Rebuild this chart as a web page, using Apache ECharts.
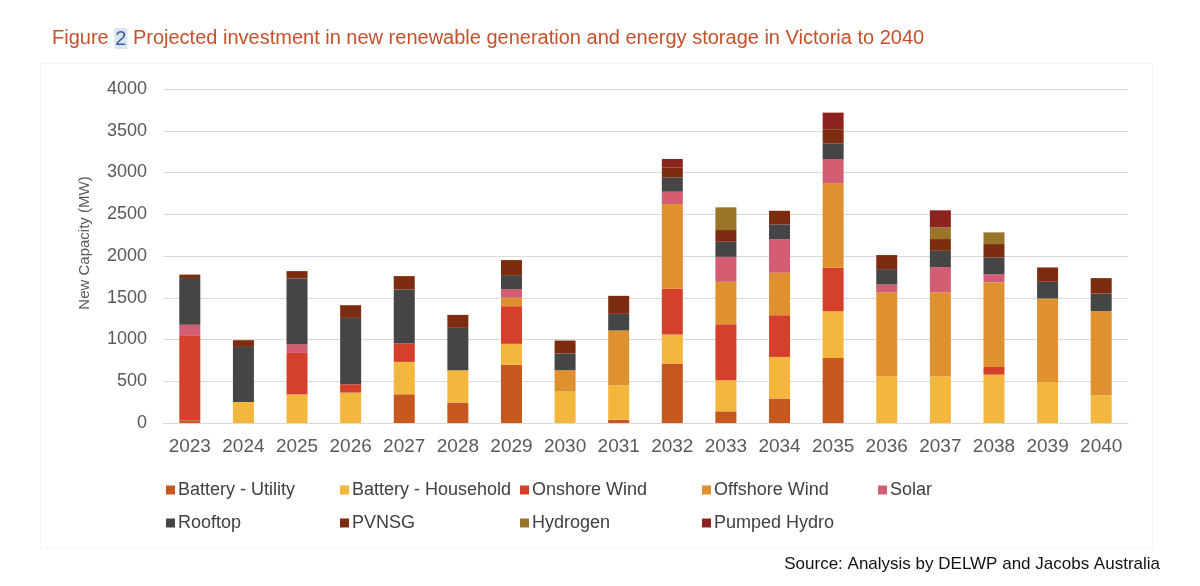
<!DOCTYPE html>
<html>
<head>
<meta charset="utf-8">
<script src="https://cdn.jsdelivr.net/npm/echarts@6/dist/echarts.min.js"></script>
<style>html,body{margin:0;padding:0;background:#fff}#c{width:1200px;height:586px}</style>
</head>
<body>
<div id="c"></div>
<script>
const years = ['2023','2024','2025','2026','2027','2028','2029','2030','2031','2032','2033','2034','2035','2036','2037','2038','2039','2040'];
const yTicks = [0, 500, 1000, 1500, 2000, 2500, 3000, 3500, 4000];
const batteryUtility   = [30, 0, 0, 0, 344, 245, 696, 0, 40, 712, 140, 293, 779, 0, 0, 0, 0, 0];
const batteryHousehold = [0, 252, 340, 364, 388, 387, 252, 376, 412, 348, 372, 498, 560, 560, 560, 580, 492, 332];
const onshoreWind      = [1020, 0, 499, 100, 220, 0, 451, 0, 0, 547, 671, 500, 520, 0, 0, 91, 0, 0];
const offshoreWind     = [0, 0, 0, 0, 0, 0, 100, 256, 656, 1015, 508, 508, 1011, 1003, 1003, 1012, 999, 1007];
const solar            = [128, 0, 105, 0, 0, 0, 104, 0, 0, 148, 299, 400, 292, 96, 304, 100, 0, 0];
const rooftop          = [559, 659, 787, 795, 647, 507, 168, 200, 199, 172, 180, 180, 188, 184, 195, 200, 200, 212];
const pvnsg            = [40, 81, 88, 152, 160, 156, 180, 156, 216, 120, 141, 163, 168, 168, 141, 160, 172, 184];
const hydrogen         = [0, 0, 0, 0, 0, 0, 0, 0, 0, 0, 272, 0, 0, 0, 140, 140, 0, 0];
const pumpedHydro      = [0, 0, 0, 0, 0, 0, 0, 0, 0, 100, 0, 0, 199, 0, 204, 0, 0, 0];

const seriesNames = ['Battery - Utility','Battery - Household','Onshore Wind','Offshore Wind','Solar','Rooftop','PVNSG','Hydrogen','Pumped Hydro'];
const seriesData = [batteryUtility, batteryHousehold, onshoreWind, offshoreWind, solar, rooftop, pvnsg, hydrogen, pumpedHydro];
const colors = ['#C5571F','#F3B73D','#D4402B','#E0912F','#D35E74','#454545','#7C2D10','#9A7428','#8C2321'];

const FONT = '"Liberation Sans", Arial, Helvetica, sans-serif';
const legendX = [166, 340, 520, 702, 878];
const legendY = [481, 514];
const legends = seriesNames.map((n, i) => ({
  show: true,
  data: [n],
  left: legendX[i < 5 ? i : i - 5],
  top: legendY[i < 5 ? 0 : 1],
  icon: 'rect',
  itemWidth: 9,
  itemHeight: 9,
  itemGap: 0,
  padding: 0,
  textStyle: { fontFamily: FONT, fontSize: 18, color: '#404040', padding: [0, 0, 0, -2] },
  selectedMode: false
}));

const chart = echarts.init(document.getElementById('c'), null, { renderer: 'canvas' });
chart.setOption({
  animation: false,
  backgroundColor: '#ffffff',
  color: colors,
  title: {
    left: 52, top: 28, padding: 0,
    text: '{a|Figure }{b|2}{a| Projected investment in new renewable generation and energy storage in Victoria to 2040}',
    textStyle: {
      fontWeight: 'normal',
      rich: {
        a: { fontFamily: FONT, fontSize: 20, fontWeight: 'normal', color: '#C4512A' },
        b: { fontFamily: FONT, fontSize: 20, fontWeight: 'normal', color: '#3C5FA6', backgroundColor: '#DCE4F0', padding: [1, 1, 0, 1] }
      }
    }
  },
  graphic: [
    { type: 'rect', silent: true, shape: { x: 40.5, y: 63.5, width: 1112, height: 485 }, style: { fill: 'none', stroke: '#f4f4f4', lineWidth: 1 } },
    { type: 'text', right: 40, top: 556, style: { text: 'Source: Analysis by DELWP and Jacobs Australia', font: '17px ' + FONT, fill: '#111111' } },
    { type: 'text', x: 85, y: 243, rotation: Math.PI / 2, style: { text: 'New Capacity (MW)', font: '15px ' + FONT, fill: '#595959', align: 'center', verticalAlign: 'middle' } }
  ],
  legend: legends,
  grid: { left: 163, right: 72, top: 89, bottom: 163, containLabel: false, outerBoundsMode: 'none' },
  xAxis: {
    type: 'category',
    data: years,
    axisTick: { show: false },
    axisLine: { show: true, lineStyle: { color: '#d9d9d9', width: 1 } },
    axisLabel: { fontFamily: FONT, fontSize: 19, color: '#595959', margin: 14, interval: 0 }
  },
  yAxis: {
    type: 'value',
    min: yTicks[0], max: yTicks[yTicks.length - 1], interval: 500,
    axisLine: { show: false },
    axisTick: { show: false },
    splitLine: { lineStyle: { color: '#d9d9d9', width: 1 } },
    axisLabel: { fontFamily: FONT, fontSize: 18, color: '#595959', margin: 16, formatter: v => String(v) }
  },
  series: seriesNames.map((n, i) => ({
    name: n,
    type: 'bar',
    stack: 'total',
    barWidth: 21,
    data: seriesData[i],
    itemStyle: { color: colors[i] }
  }))
});
</script>
</body>
</html>
